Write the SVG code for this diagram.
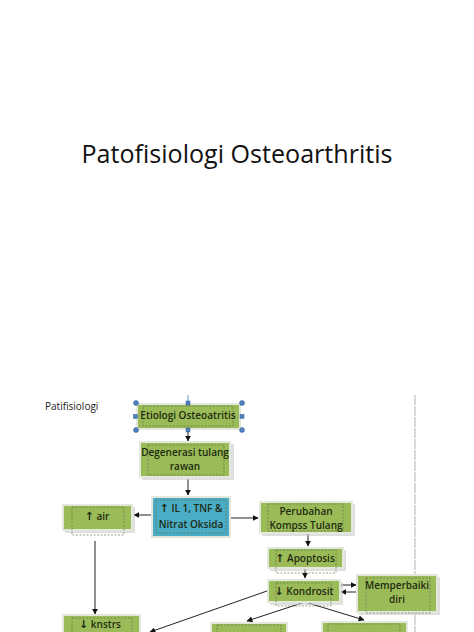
<svg xmlns="http://www.w3.org/2000/svg" width="474" height="632" viewBox="0 0 474 632">
<style>
.box{fill:#9bbb59;stroke:#e4e8dc;stroke-width:2}
.blue{fill:#4bacc6;stroke:#e4e8dc;stroke-width:2}
.shadow{fill:#c9c9c9;opacity:0.6}
.inner{fill:none;stroke:#5a6a40;stroke-width:0.6;stroke-dasharray:2 1.5}
.t{font-family:"Open Sans","Liberation Sans",sans-serif;font-size:10px;font-weight:600;fill:#1d2b10;text-anchor:middle}
.ar{font-family:"DejaVu Sans",sans-serif;font-weight:bold;font-size:11px}
.c{stroke:#222;stroke-width:1;fill:none;marker-end:url(#ah)}
.h{fill:#4f81bd;stroke:#2f5f9a;stroke-width:0.5}
</style>
<defs>
<marker id="ah" viewBox="0 0 10 10" refX="9" refY="5" markerWidth="6" markerHeight="6" orient="auto" markerUnits="userSpaceOnUse">
<path d="M0,0 L10,5 L0,10 z" fill="#111"/>
</marker>
</defs>
<rect width="474" height="632" fill="#ffffff"/>
<text x="237" y="163" font-family="'Open Sans','Liberation Sans',sans-serif" font-size="25" fill="#111" text-anchor="middle" textLength="311" lengthAdjust="spacingAndGlyphs">Patofisiologi Osteoarthritis</text>
<text x="45" y="410" font-family="'Open Sans','Liberation Sans',sans-serif" font-size="10" fill="#222">Patifisiologi</text>
<line x1="415" y1="395" x2="415" y2="632" stroke="#c0c0c0" stroke-width="1.2" stroke-dasharray="10 1"/>
<g id="connectors">
<line class="c" x1="188" y1="430" x2="188" y2="441"/>
<line class="c" x1="188" y1="479" x2="188" y2="495"/>
<line class="c" x1="152" y1="515" x2="134" y2="515"/>
<line class="c" x1="231" y1="518" x2="258" y2="518"/>
<line class="c" x1="308" y1="534" x2="308" y2="546"/>
<line class="c" x1="305" y1="569" x2="305" y2="578"/>
<line class="c" x1="341" y1="585" x2="356" y2="585"/>
<line class="c" x1="356" y1="592" x2="341" y2="592"/>
<line class="c" x1="95" y1="541" x2="95" y2="614"/>
<line class="c" x1="267" y1="591" x2="150" y2="632"/>
<line class="c" x1="305" y1="602" x2="247" y2="621"/>
<line class="c" x1="305" y1="602" x2="364" y2="620"/>
</g>
<g id="etiologi">
<rect class="box" x="137" y="404" width="103" height="25"/>
<rect class="inner" x="143" y="406" width="90" height="20"/>
<text class="t" x="188" y="419">Etiologi  Osteoatritis</text>
<line x1="188" y1="395" x2="188" y2="403" stroke="#4f81bd" stroke-width="0.8"/>
<circle class="h" cx="136" cy="403" r="2.5"/><circle class="h" cx="242" cy="403" r="2.5"/>
<circle class="h" cx="136" cy="430" r="2.5"/><circle class="h" cx="242" cy="430" r="2.5"/>
<rect class="h" x="186" y="401" width="4" height="4"/><rect class="h" x="186" y="428" width="4" height="4"/>
<rect class="h" x="133.5" y="414.5" width="4" height="4"/><rect class="h" x="240" y="414.5" width="4" height="4"/>
</g>
<g id="degenerasi">
<rect class="shadow" x="142" y="444" width="92" height="36"/>
<rect class="box" x="140" y="442" width="90" height="35"/>
<rect class="inner" x="148" y="445" width="76" height="30"/>
<text class="t" x="185" y="456">Degenerasi tulang</text>
<text class="t" x="185" y="470">rawan</text>
</g>
<g id="il">
<rect class="blue" x="152" y="497" width="78" height="40"/>
<rect class="inner" x="156" y="500" width="70" height="33"/>
<text class="t" x="191" y="512"><tspan class="ar">↑</tspan> IL 1, TNF &amp;</text>
<text class="t" x="191" y="528">Nitrat Oksida</text>
</g>
<g id="air">
<rect class="shadow" x="65" y="507" width="70" height="26"/>
<rect class="box" x="63" y="505" width="69" height="25"/>
<rect class="inner" x="72" y="507" width="52" height="28"/>
<text class="t" x="97" y="520"><tspan class="ar">↑</tspan> air</text>
</g>
<g id="perubahan">
<rect class="shadow" x="262" y="504" width="93" height="32"/>
<rect class="box" x="260" y="502" width="92" height="31"/>
<rect class="inner" x="268" y="504" width="75" height="27"/>
<text class="t" x="306" y="515">Perubahan</text>
<text class="t" x="306" y="529">Kompss Tulang</text>
</g>
<g id="apoptosis">
<rect class="shadow" x="270" y="550" width="76" height="21"/>
<rect class="box" x="268" y="548" width="75" height="20"/>
<rect class="inner" x="276" y="550" width="60" height="23"/>
<text class="t" x="305" y="562"><tspan class="ar">↑</tspan> Apoptosis</text>
</g>
<g id="kondrosit">
<rect class="shadow" x="270" y="582" width="73" height="23"/>
<rect class="box" x="268" y="580" width="72" height="22"/>
<rect class="inner" x="276" y="583" width="55" height="23"/>
<text class="t" x="304" y="595"><tspan class="ar">↓</tspan> Kondrosit</text>
</g>
<g id="memperbaiki">
<rect class="shadow" x="359" y="577" width="81" height="38"/>
<rect class="box" x="357" y="575" width="80" height="37"/>
<rect class="inner" x="366" y="578" width="64" height="35"/>
<text class="t" x="397" y="589">Memperbaiki</text>
<text class="t" x="397" y="603">diri</text>
</g>
<g id="knstrs">
<rect class="box" x="63" y="615" width="77" height="20"/>
<rect class="inner" x="72" y="618" width="60" height="16"/>
<text class="t" x="100" y="628"><tspan class="ar">↓</tspan> knstrs</text>
</g>
<g id="bottom-mid">
<rect class="box" x="211" y="623" width="76" height="14"/>
<rect class="inner" x="217" y="625" width="64" height="12"/>
</g>
<g id="bottom-right">
<rect class="box" x="322" y="622" width="85" height="14"/>
<rect class="inner" x="328" y="624" width="72" height="12"/>
</g>
</svg>
